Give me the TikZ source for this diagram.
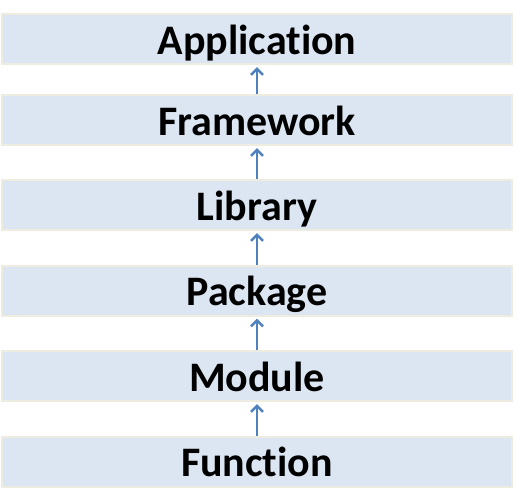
\documentclass[tikz,border=0pt]{standalone}
\usepackage{fontspec}
\setmainfont{Carlito}[Ligatures={NoCommon}]
\usetikzlibrary{arrows.meta}
\definecolor{layerfill}{HTML}{DCE6F2}
\definecolor{layerline}{HTML}{EEECE1}
\definecolor{linkblue}{HTML}{4F81BD}
\begin{document}
\begin{tikzpicture}[x=1pt,y=-1pt,
           layer/.style={draw=layerline,fill=layerfill,line width=2pt,
             minimum width=510pt,minimum height=50pt,inner sep=0pt,
             text height=30pt,text depth=0pt,
             font=\fontsize{42}{46}\selectfont\bfseries},
           link/.style={->,linkblue,line width=2.6pt,shorten >=2pt},
           >={Straight Barb[length=6pt,width=12pt]}]
           \useasboundingbox(0,0)rectangle(515,490);
           \node[layer](app)at(257,39){Application};
           \node[layer](fw)at(257,120){Framework};
           \node[layer](lib)at(257,205){Library};
           \node[layer](pkg)at(257,290.5){Package};
           \node[layer](mod)at(257,376){Module};
           \node[layer](fn)at(257,461.5){Function};
           \draw[link](fw)--(app);
           \draw[link](lib)--(fw);
           \draw[link](pkg)--(lib);
           \draw[link](mod)--(pkg);
           \draw[link](fn)--(mod);
         \end{tikzpicture}
\end{document}
